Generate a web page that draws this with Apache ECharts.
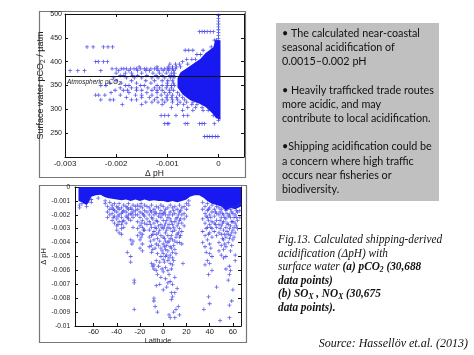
<!DOCTYPE html>
<html>
<head>
<meta charset="utf-8">
<script src="https://cdn.jsdelivr.net/npm/echarts@6/dist/echarts.min.js"></script>
<style>
    html, body, #chart {
        width: 100%;
        height: 100%;
        margin: 0px;
        background: #ffffff;
    }
</style>
</head>
<body>
<div id="chart"></div>
<script>
// (a) surface water pCO2 against dpH. dpH is written in units of 0.001
var pco2Rows = [
    [463, [-0.37, -0.32, -0.27, -0.22, -0.16, -0.1]],
    [445, [-0.08, -0.04]],
    [431, [-2.57, -2.45, -2.25, -2.16, -2.07, -0.14]],
    [424, [-0.65, -0.58, -0.5, -0.3]],
    [415, [-0.42, -0.35]],
    [405, [-0.62, -0.52, -0.45]],
    [400, [-2.4, -2.35, -2.25, -2.17, -0.7]],
    [395, [-0.95, -0.84, -0.76, -0.6]],
    [389, [-1.55, -1.2, -0.98, -0.9, -0.82, -0.74]],
    [385, [-2.08, -2.0, -1.9, -1.85, -1.8, -1.72, -1.65, -1.6, -1.52, -1.45, -1.4, -1.32, -1.25, -1.2, -1.12, -1.05, -1.0, -0.95, -0.9, -0.84]],
    [381, [-2.9, -2.75, -2.62, -2.3, -1.95, -1.75, -1.58, -1.42, -1.35, -1.18, -1.08, -0.98, -0.88]],
    [376, [-2.0, -1.82, -1.7, -1.5, -1.28, -1.15, -1.02, -0.92, -0.86]],
    [371, [-1.92, -1.85, -1.68, -1.58, -1.4, -1.22, -1.1, -0.95, -0.88]],
    [366, [-2.05, -1.8, -1.64, -1.5, -1.3, -1.18, -1.05, -0.94, -0.87]],
    [360, [-2.0, -1.7, -1.42, -1.25, -1.1, -0.99, -0.9]],
    [355, [-2.12, -1.9, -1.6, -1.32, -1.0, -0.88]],
    [350, [-2.3, -2.2, -1.82, -1.75, -1.52, -1.45, -1.2, -1.1, -1.0, -0.92, -0.86]],
    [345, [-1.92, -1.7, -1.6, -1.38, -1.25, -1.15, -1.02, -0.92]],
    [340, [-2.02, -1.86, -1.78, -1.6, -1.5, -1.3, -1.2, -1.1, -0.96, -0.88]],
    [335, [-2.1, -1.75, -1.4, -1.2, -1.05, -0.95, -0.8]],
    [330, [-2.4, -2.34, -2.22, -1.92, -1.62, -1.5, -1.3, -1.12, -1.0, -0.9, -0.76]],
    [325, [-1.8, -1.5, -1.35, -1.2, -1.02, -0.92, -0.82, -0.7]],
    [320, [-2.3, -2.12, -2.05, -1.7, -1.6, -1.25, -1.1, -1.0, -0.9, -0.8, -0.66]],
    [315, [-1.42, -1.3, -1.18, -1.05, -0.9, -0.75, -0.62, -0.5]],
    [310, [-1.88, -1.5, -1.1, -0.8, -0.68, -0.52, -0.42]],
    [304, [-0.92, -0.6, -0.45, -0.32]],
    [298, [-0.7, -0.5, -0.3, -0.2]],
    [287, [-1.12, -1.05, -0.98, -0.83, -0.68, -0.6, -0.1]],
    [270, [-1.05, -1.0, -0.97, -0.65, -0.6, -0.37, -0.32, -0.27, -0.08]],
    [243, [-0.27, -0.22, -0.17, -0.12, -0.06, -0.01]]
];
// points sitting on dpH = 0
var zeroColumn = [497, 491, 485, 479, 473, 467, 461, 455, 449, 282, 277];
// outline of the solid blue cloud, [dpH x 0.001, pCO2]
var pco2Core = [
    [0.04, 445], [-0.06, 446], [-0.1, 430], [-0.25, 418], [-0.35, 406], [-0.5, 395],
    [-0.62, 386], [-0.74, 378], [-0.8, 365], [-0.8, 346], [-0.7, 331], [-0.55, 319],
    [-0.38, 312], [-0.25, 305], [-0.12, 292], [-0.05, 282], [0.04, 278]
];
var atmosphericPco2 = 370;

// (b) dpH against latitude. dpH is written in units of 0.001
var latColumns = [
    [-72, [-1.3, -1.5]], [-70, [-1.2]], [-66, [-1.4]], [-62, [-0.9, -1.1]], [-56, [-0.8]],
    [-50, [-1.0, -1.2]], [-48, [-1.4, -1.8, -2.2]], [-46, [-1.1, -1.6, -2.0]],
    [-44, [-1.3, -1.5, -1.9, -2.4]], [-43, [-1.6, -2.2]], [-42, [-1.2, -1.7, -2.1, -2.6]],
    [-40, [-1.4, -1.8, -2.3, -2.8, -3.1]], [-39, [-1.5, -2.1, -2.7]],
    [-38, [-1.2, -1.6, -2.0, -2.5, -3.3]], [-36, [-1.5, -1.9, -2.2, -2.7, -3.0, -3.4]],
    [-35, [-1.8, -2.5]], [-34, [-1.3, -1.7, -2.4, -2.9]], [-32, [-1.4, -1.8, -2.1, -2.6]],
    [-31, [-1.5, -2.2, -4.7]], [-30, [-1.2, -1.6, -2.0, -2.3]],
    [-28, [-1.5, -1.9, -2.4, -3.8, -5.0, -5.4]], [-27, [-1.6, -2.0, -4.1]],
    [-26, [-1.3, -1.8, -2.2, -2.9, -3.9]], [-25, [-6.7, -6.9, -8.8]], [-24, [-1.4, -1.7, -2.0]],
    [-22, [-1.3, -1.6, -2.0, -2.5, -3.0, -3.5]], [-20, [-1.4, -1.8, -2.2, -2.8, -3.3, -3.8, -4.4]],
    [-19, [-1.2, -2.6, -3.6]], [-18, [-1.5, -1.9, -2.4, -2.9, -3.4, -4.1, -4.6]],
    [-17, [-2.0, -3.1]], [-16, [-1.3, -1.7, -2.1, -2.6, -3.1]], [-14, [-1.4, -1.8, -2.3, -2.7]],
    [-12, [-1.5, -2.0, -2.5, -3.1, -3.6, -4.3]], [-11, [-1.7, -2.7, -3.9]],
    [-10, [-1.3, -1.8, -2.2, -2.9, -3.5, -4.2, -4.7, -5.5]], [-9, [-2.3, -3.4, -4.5, -5.7]],
    [-8, [-1.6, -2.0, -2.6, -3.2, -3.8, -5.6, -5.9, -8.0, -8.2]], [-7, [-1.8, -2.9, -4.4, -8.6]],
    [-6, [-1.4, -1.9, -2.4, -3.0, -3.4, -4.1, -5.3, -6.0, -7.1]], [-5, [-2.5, -3.7, -4.8, -6.3, -9.0]],
    [-4, [-1.5, -2.1, -2.8, -3.3, -4.2, -5.7]], [-3, [-1.9, -3.1, -3.9, -5.4, -7.0]],
    [-2, [-1.3, -1.7, -2.2, -2.7, -3.5, -4.4, -5.0, -6.5]], [-1, [-2.0, -2.9, -4.6, -5.9]],
    [0, [-1.4, -1.9, -2.4, -3.0, -3.6, -4.1, -4.8, -5.2, -6.1, -7.4]], [1, [-1.8, -2.8, -3.7, -4.3, -5.4]],
    [2, [-1.6, -2.0, -2.6, -3.3, -3.9, -4.5, -5.0, -5.8, -6.6]], [3, [-2.4, -3.1, -4.2, -4.9, -7.2]],
    [4, [-1.5, -2.2, -2.9, -3.5, -4.0, -4.6, -5.3, -6.0, -6.9]], [5, [-2.0, -2.7, -3.9, -5.1, -6.3, -9.2]],
    [6, [-1.3, -1.8, -2.3, -3.0, -3.7, -4.3, -4.9, -5.5, -6.8, -9.4]], [7, [-2.5, -3.5, -4.4, -5.9, -7.6, -8.1]],
    [8, [-1.5, -2.0, -2.7, -3.2, -3.8, -4.7, -5.1, -5.6, -7.0, -7.9]], [9, [-1.7, -2.9, -4.2, -5.3, -9.0]],
    [10, [-1.4, -1.9, -2.5, -3.1, -3.9, -4.5, -6.5, -7.6, -9.4]], [11, [-2.3, -3.6, -4.8, -8.8]],
    [12, [-1.6, -2.2, -2.8, -3.4, -4.0, -7.3]], [13, [-2.0, -2.6, -3.3, -8.6]],
    [14, [-1.3, -1.8, -2.4, -3.0, -3.6, -4.0, -9.2]], [15, [-1.7, -2.3, -3.5]],
    [16, [-1.5, -2.0, -2.6, -3.2, -4.1]], [17, [-5.5]], [18, [-1.4, -1.9, -2.3, -2.8]],
    [20, [-1.2, -1.6, -2.1]], [22, [-1.0, -1.3]],
    [34, [-1.1, -1.6, -2.3, -3.2, -4.0]], [35, [-8.8]], [36, [-1.4, -1.9, -2.6, -3.5, -4.3, -5.6]],
    [37, [-2.1, -3.0, -4.7]], [38, [-1.2, -1.7, -2.2, -2.9, -3.8, -5.3]],
    [39, [-1.6, -2.4, -3.4, -6.3, -7.9]], [40, [-1.5, -2.0, -2.7, -3.3, -4.1, -4.8, -5.5, -8.4]],
    [41, [-2.2, -2.9, -4.4]], [42, [-1.3, -1.8, -2.5, -3.0, -3.6, -5.0, -6.0]],
    [44, [-1.6, -2.1, -2.6, -3.2]], [45, [-1.8, -2.7]], [46, [-1.4, -1.9, -2.4, -2.9, -3.5, -7.2]],
    [48, [-1.5, -2.0, -2.7, -3.3, -4.0, -4.6]], [49, [-1.8, -2.4, -3.0, -9.6]],
    [50, [-1.6, -2.2, -2.8, -3.4, -4.2, -4.9]], [51, [-1.9, -2.6, -3.7]],
    [52, [-1.4, -2.0, -2.5, -3.1, -3.8, -4.5, -5.1]], [53, [-2.2, -3.4, -4.1]],
    [54, [-1.7, -2.3, -2.9, -3.6, -4.3, -5.0, -5.9]], [55, [-1.9, -2.6, -3.2]],
    [56, [-1.5, -2.1, -2.7, -3.4, -4.0, -6.7]], [57, [-2.0, -3.0, -3.7, -5.7, -6.3, -8.5, -9.4]],
    [58, [-1.6, -2.2, -2.8, -3.5, -4.6, -6.0]], [59, [-1.8, -2.5, -3.3, -4.2, -8.2]],
    [60, [-1.4, -1.9, -2.5, -3.1, -3.8, -7.4]], [61, [-2.2, -2.9, -3.6]],
    [62, [-1.5, -2.0, -2.6, -3.3, -4.9, -5.3]], [63, [-1.7, -2.2, -2.8]],
    [64, [-1.3, -1.8, -2.4, -3.0]], [66, [-1.2, -1.7, -2.2]]
];
// outline of the solid band along the top, [latitude, dpH x 0.001]
var latCore = [
    [-73, 0], [67, 0], [67, -1.4], [62, -1.6], [58, -1.5], [54, -1.7], [50, -1.4], [46, -1.3],
    [42, -1.2], [38, -1.0], [35, -0.8], [31, -0.6], [27, -0.6], [23, -0.7], [20, -0.9],
    [16, -1.0], [12, -1.1], [8, -1.0], [4, -1.1], [0, -1.0], [-4, -1.0], [-8, -0.95],
    [-12, -1.0], [-16, -0.9], [-20, -1.0], [-24, -0.9], [-28, -1.0], [-32, -0.9], [-36, -0.95],
    [-40, -0.9], [-44, -0.85], [-48, -0.8], [-51, -0.7], [-54, -0.55], [-58, -0.6], [-62, -0.7],
    [-64, -1.1], [-66, -1.3], [-68, -1.2], [-70, -1.1], [-73, -1.0]
];

var bulletLines = [
    '\u2022 The calculated near-coastal',
    'seasonal acidification of',
    '0.0015\u20130.002 pH',
    '',
    '\u2022 Heavily trafficked trade routes',
    'more acidic, and may',
    'contribute to local acidification.',
    '',
    '\u2022Shipping acidification could be',
    'a concern where high traffic',
    'occurs near fisheries or',
    'biodiversity.'
];
var captionLines = [
    'Fig.13. Calculated shipping-derived',
    'acidification (\u0394pH) with',
    'surface water {b|(a) pCO}{bs|2}{b| (30,688}',
    '{b|data points)}',
    '{b|(b) SO}{bs|X}{b| , NO}{bs|X}{b| (30,675}',
    '{b|data points).}'
];
var sourceText = 'Source: Hassell\u00f6v et.al. (2013)';

var topPoints = [];
pco2Rows.forEach(function (r) {
    r[1].forEach(function (d) { topPoints.push([d / 1000, r[0]]); });
});
zeroColumn.forEach(function (p) { topPoints.push([0, p]); });
var bottomPoints = [];
latColumns.forEach(function (c) {
    c[1].forEach(function (d) { bottomPoints.push([c[0], d / 1000]); });
});

var coreBlue = '#1818f0';
var dotBlue = '#2a2aea';
var plus = 'path://M4,0H6V4H10V6H6V10H4V6H0V4H4Z';
var sansFont = 'Liberation Sans';

function corePolygon(outline, idx, scale) {
    return {
        type: 'custom',
        xAxisIndex: idx,
        yAxisIndex: idx,
        silent: true,
        z: 1,
        data: [[0, 0]],
        renderItem: function (params, api) {
            var pts = outline.map(function (p) {
                return api.coord(scale === 'x' ? [p[0] / 1000, p[1]] : [p[0], p[1] / 1000]);
            });
            return { type: 'polygon', shape: { points: pts }, style: { fill: coreBlue } };
        }
    };
}

function frameAxis(base, extra) {
    var a = {
        type: 'value',
        axisLine: { show: true, onZero: false, lineStyle: { color: '#111', width: 1 } },
        axisTick: { show: true, inside: true, length: 3, lineStyle: { color: '#111' } },
        splitLine: { show: false },
        axisLabel: { show: false }
    };
    for (var k in base) a[k] = base[k];
    for (var j in extra) a[j] = extra[j];
    return a;
}

var myChart = echarts.init(document.getElementById('chart'));
var option = {
    animation: false,
    backgroundColor: '#ffffff',
    grid: [
        { left: 65, top: 14, width: 179, height: 143 },
        { left: 75, top: 187, width: 166, height: 139 }
    ],
    xAxis: [
        frameAxis({ gridIndex: 0, min: -0.003, max: 0.0005, interval: 0.001 }, {
            position: 'bottom',
            name: '\u0394 pH', nameLocation: 'middle', nameGap: 12,
            nameTextStyle: { fontFamily: sansFont, fontSize: 8.5, color: '#222' },
            axisLabel: {
                show: true, margin: 3, fontFamily: sansFont, fontSize: 8, color: '#222',
                formatter: function (v) {
                    if (v > 0.0001) return '';
                    return Math.abs(v) < 1e-9 ? '0' : v.toFixed(3);
                }
            }
        }),
        frameAxis({ gridIndex: 0, min: -0.003, max: 0.0005, interval: 0.001 }, { position: 'top' }),
        frameAxis({ gridIndex: 1, min: -76, max: 67, splitNumber: 7 }, {
            position: 'bottom',
            name: 'Latitude', nameLocation: 'middle', nameGap: 9,
            nameTextStyle: { fontFamily: sansFont, fontSize: 7.5, color: '#222' },
            axisLabel: {
                show: true, margin: 2, fontFamily: sansFont, fontSize: 7.5, color: '#222',
                showMinLabel: false, showMaxLabel: false,
                formatter: function (v) { return v % 20 === 0 ? String(v) : ''; }
            }
        }),
        frameAxis({ gridIndex: 1, min: -76, max: 67, splitNumber: 7 }, { position: 'top' })
    ],
    yAxis: [
        frameAxis({ gridIndex: 0, min: 200, max: 500, interval: 50 }, {
            position: 'left',
            name: 'Surface water pCO{s|2} / \u00b5atm', nameLocation: 'middle', nameGap: 18,
            nameTextStyle: {
                fontFamily: sansFont, fontSize: 9, color: '#222', lineHeight: 12,
                rich: { s: { fontFamily: sansFont, fontSize: 6.5, lineHeight: 6, verticalAlign: 'bottom', color: '#222' } }
            },
            axisLabel: {
                show: true, margin: 3, fontFamily: sansFont, fontSize: 7, color: '#222',
                formatter: function (v) { return v === 200 ? '' : String(v); }
            }
        }),
        frameAxis({ gridIndex: 0, min: 200, max: 500, interval: 50 }, { position: 'right' }),
        frameAxis({ gridIndex: 1, min: -0.01, max: 0, interval: 0.001 }, {
            position: 'left',
            name: '\u0394 pH', nameLocation: 'middle', nameGap: 25,
            nameTextStyle: { fontFamily: sansFont, fontSize: 7.5, color: '#222' },
            axisLabel: {
                show: true, margin: 5, fontFamily: sansFont, fontSize: 6.5, color: '#222',
                formatter: function (v) {
                    if (Math.abs(v) < 1e-9) return '0';
                    var s = v.toFixed(3);
                    return s === '-0.010' ? '-0.01' : s;
                }
            }
        }),
        frameAxis({ gridIndex: 1, min: -0.01, max: 0, interval: 0.001 }, { position: 'right' })
    ],
    series: [
        corePolygon(pco2Core, 0, 'x'),
        {
            type: 'scatter',
            xAxisIndex: 0,
            yAxisIndex: 0,
            data: topPoints,
            symbol: plus,
            symbolSize: 4,
            itemStyle: { color: dotBlue, opacity: 0.8 },
            silent: true,
            z: 2,
            markLine: {
                silent: true,
                symbol: 'none',
                lineStyle: { color: '#111', width: 1, type: 'solid' },
                label: {
                    show: true,
                    position: 'insideStartBottom',
                    distance: [2, 3],
                    formatter: 'Atmospheric pCO{s|2}',
                    fontFamily: sansFont, fontSize: 6.5, fontStyle: 'italic', color: '#222',
                    rich: { s: { fontFamily: sansFont, fontSize: 5, fontStyle: 'italic', verticalAlign: 'bottom', lineHeight: 5, color: '#222' } }
                },
                data: [{ yAxis: atmosphericPco2 }]
            }
        },
        corePolygon(latCore, 2, 'y'),
        {
            type: 'scatter',
            xAxisIndex: 2,
            yAxisIndex: 2,
            data: bottomPoints,
            symbol: plus,
            symbolSize: 4,
            itemStyle: { color: dotBlue, opacity: 0.75 },
            silent: true,
            z: 2
        }
    ],
    graphic: [
        { type: 'rect', silent: true, shape: { x: 39.5, y: 11.5, width: 206, height: 166 },
          style: { fill: 'none', stroke: '#777', lineWidth: 1.2 } },
        { type: 'rect', silent: true, shape: { x: 39.5, y: 185.5, width: 207, height: 157 },
          style: { fill: 'none', stroke: '#777', lineWidth: 1.2 } },
        { type: 'rect', silent: true, shape: { x: 276, y: 23, width: 163, height: 178 },
          style: { fill: '#c0c0c0' } },
        { type: 'text', silent: true, x: 282, y: 26, scaleX: 0.93,
          style: { text: bulletLines.join('\n'), fontFamily: 'Lato', fontSize: 11.6, lineHeight: 14.2, fill: '#111' } },
        { type: 'text', silent: true, x: 278, y: 233, scaleX: 0.94,
          style: {
              text: captionLines.join('\n'),
              fontFamily: 'Liberation Serif', fontSize: 12, fontStyle: 'italic', lineHeight: 13.6, fill: '#111',
              rich: {
                  b: { fontFamily: 'Liberation Serif', fontSize: 12, fontStyle: 'italic', fontWeight: 'bold', lineHeight: 13.6, fill: '#111' },
                  bs: { fontFamily: 'Liberation Serif', fontSize: 8, fontStyle: 'italic', fontWeight: 'bold', lineHeight: 7, verticalAlign: 'bottom', fill: '#111' }
              }
          } },
        { type: 'text', silent: true, x: 468, y: 344,
          style: { text: sourceText, textAlign: 'right', textVerticalAlign: 'middle',
                   fontFamily: 'Liberation Serif', fontSize: 12, fontStyle: 'italic', fill: '#111' } }
    ]
};
myChart.setOption(option);
</script>
</body>
</html>
